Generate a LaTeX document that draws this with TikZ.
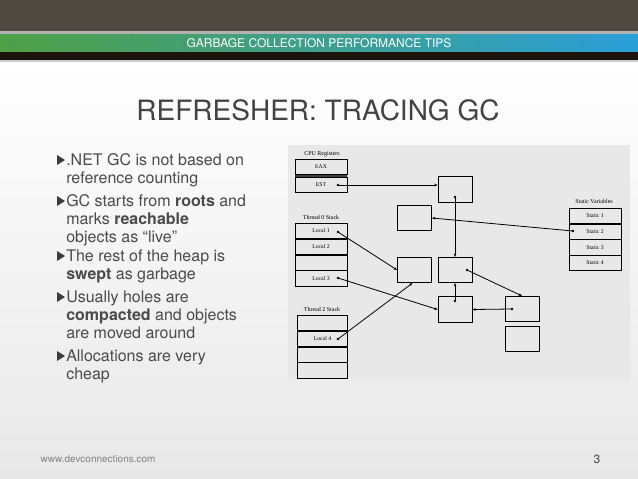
\documentclass[tikz,border=0pt]{standalone}
\usepackage{fontspec}
\setmainfont{Liberation Serif}
\newfontfamily\gothic{TeX Gyre Heros}
\usetikzlibrary{arrows.meta}
\definecolor{txt}{HTML}{4A4A4A}
\definecolor{hdr}{HTML}{4E4840}
\definecolor{gA}{HTML}{4FA045}
\definecolor{gB}{HTML}{2A9ED8}
\tikzset{
 cell/.style={draw=black,line width=0.6pt,minimum width=39pt,minimum height=11.6pt,inner sep=0pt,font=\fontsize{4.3}{5}\selectfont},
 obj/.style={draw=black,line width=0.6pt,minimum width=25.5pt,minimum height=19pt,inner sep=0pt},
 lbl/.style={font=\fontsize{4.5}{5}\selectfont,inner sep=0pt},
 ref/.style={line width=0.6pt,-{Stealth[length=2.5pt,width=2pt]}},
 dotc/.style={circle,fill=black,inner sep=0pt,minimum size=2pt},
 line/.style={font=\gothic\fontsize{12}{13}\selectfont,text=txt,anchor=base west,inner sep=0pt},
}
\begin{document}
\begin{tikzpicture}[x=0.75pt,y=-0.75pt]
\useasboundingbox (0,0) rectangle (638,478);
% background
\fill[top color=white,bottom color=gray!18] (0,60) rectangle (638,478);
\fill[hdr] (0,0) rectangle (638,31);
\fill[gray!60] (0,31) rectangle (638,35);
\shade[left color=gA,right color=gB] (0,35) rectangle (638,52);
\fill[black!85!brown] (0,52) rectangle (638,60);
\fill[gray!40] (0,60) rectangle (638,62);
\node[font=\gothic\fontsize{9}{10}\selectfont,text=white] (hd) at (319,43.5) {GARBAGE COLLECTION PERFORMANCE TIPS};
\node[font=\gothic\fontsize{21}{24}\selectfont,text=txt!90!black] (title) at (318,110) {REFRESHER: TRACING GC};
% bullets
\foreach \y/\t/\b in {
 160/{.NET GC is not based on}/1, 178/{reference counting}/0,
 201/{GC starts from \textbf{roots} and}/1, 219/{marks \textbf{reachable}}/0, 237/{objects as “live”}/0,
 256/{The rest of the heap is}/1, 274/{\textbf{swept} as garbage}/0,
 297/{Usually holes are}/1, 315/{\textbf{compacted} and objects}/0, 333/{are moved around}/0,
 356/{Allocations are very}/1, 374/{cheap}/0}{
 \node[line] at (66,\y+5.5) {\t};
 \ifnum\b=1 \fill[txt!80!black] (57,\y-5) -- (65,\y) -- (57,\y+5) -- cycle;\fi
}
\node[font=\gothic\fontsize{7.5}{9}\selectfont,text=gray,anchor=west] (url) at (36,459) {www.devconnections.com};
\node[font=\gothic\fontsize{9}{10}\selectfont,text=txt] (pg) at (597,459) {3};
% diagram
\fill[black!9] (288,145) rectangle (630,379);
\node[lbl] (cpu) at (322,154) {CPU Registers};
\node[cell] (eax) at (321,167) {EAX};
\node[cell] (est) at (321,185) {EST};
\fill[black!75] (295,175) rectangle (347,177);
\node[lbl] (t0) at (321,217) {Thread 0 Stack};
\node[cell] (l1) at (321,231) {Local 1};
\node[cell] (l2) at (321,247) {Local 2};
\node[cell] (l0) at (321,263) {};
\node[cell] (l3) at (321,278.5) {Local 3};
\node[lbl] (t2) at (322,309) {Thread 2 Stack};
\node[cell,minimum width=38pt] (m1) at (322.5,323) {};
\node[cell,minimum width=38pt] (l4) at (322.5,339) {Local 4};
\node[cell,minimum width=38pt] (m3) at (322.5,355) {};
\node[cell,minimum width=38pt] (m4) at (322.5,370.5) {};
\node[lbl] (sv) at (594,201) {Static Variables};
\node[cell] (s1) at (595,216) {Static 1};
\node[cell] (s2) at (595,232) {Static 2};
\node[cell] (s3) at (595,247.5) {Static 3};
\node[cell] (s4) at (595,263) {Static 4};
\node[obj] (top) at (455,189.5) {};
\node[obj] (lft) at (414.5,218) {};
\node[obj] (lm) at (414.5,270) {};
\node[obj] (cm) at (455,270) {};
\node[obj] (bc) at (455,309.5) {};
\node[obj] (r1) at (522,309) {};
\node[obj] (r2) at (522,339) {};
% references
\coordinate (d1) at (338,185);
\coordinate (d2) at (455,197);
\coordinate (d3) at (573,231);
\coordinate (d4) at (338,232);
\coordinate (d5) at (338,278);
\coordinate (d6) at (338,339);
\coordinate (d7) at (467,270);
\coordinate (d8) at (455,301);
\coordinate (d9) at (512,309);
\foreach \d in {d1,d2,d3,d4,d5,d6,d7,d8,d9} \node[dotc] at (\d) {};
\draw[ref] (d1) -- (top.west|-d1);
\draw[ref] (d2) -- (cm.north);
\draw[ref] (d3) -- (lft.east);
\draw[ref] (d4) -- (lm.west);
\draw[ref] (d5) -- (bc.west);
\draw[ref] (d6) -- ([xshift=-1.5pt]lm.south);
\draw[ref] (d7) -- (r1.north);
\draw[ref] (d8) -- (cm.south);
\draw[ref] (d9) -- (bc.east);
\end{tikzpicture}
\end{document}
